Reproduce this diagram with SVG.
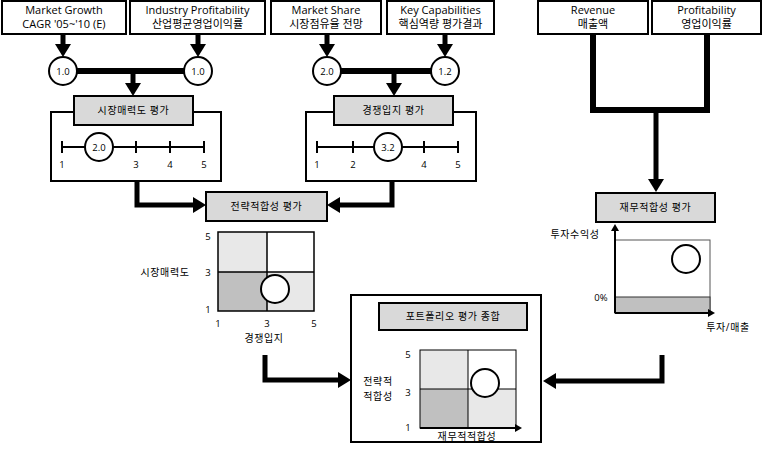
<svg xmlns="http://www.w3.org/2000/svg" width="763" height="453" viewBox="0 0 763 453">
<defs>
<style>
text{font-family:"Open Sans","Noto Sans CJK KR",sans-serif;fill:#000;text-anchor:middle}
.box{fill:#fff;stroke:#000;stroke-width:2}
.gbox{fill:#d9d9d9;stroke:#000;stroke-width:2}
.frame{fill:#fff;stroke:#000;stroke-width:2}
.t11{font-size:11px}
.t10{font-size:10px;letter-spacing:0.6px}
.t9{font-size:9.5px}
.conn{fill:none;stroke:#000;stroke-width:5;stroke-linejoin:miter}
.bar{fill:none;stroke:#000;stroke-width:6}
.circ{fill:#fff;stroke:#000;stroke-width:2}
.scale{stroke:#000;stroke-width:2;fill:none}
.q1{fill:#e8e8e8}
.q2{fill:#fff}
.q3{fill:#c0c0c0}
.grid{fill:none;stroke:#000;stroke-width:1.5}
.axis{stroke:#000;stroke-width:2;fill:none}
</style>
<marker id="ah" markerUnits="userSpaceOnUse" markerWidth="14" markerHeight="16" refX="5" refY="8" orient="auto">
<path d="M0,0 L13,8 L0,16 z" fill="#000"/>
</marker>
<marker id="sa" markerUnits="userSpaceOnUse" markerWidth="8" markerHeight="8" refX="2" refY="4" orient="auto">
<path d="M0,0 L7,4 L0,8 z" fill="#000"/>
</marker>
</defs>

<g id="connectors">
<line class="conn" x1="63" y1="34" x2="63" y2="49" marker-end="url(#ah)"/>
<line class="conn" x1="198" y1="34" x2="198" y2="49" marker-end="url(#ah)"/>
<line class="conn" x1="327" y1="34" x2="327" y2="49" marker-end="url(#ah)"/>
<line class="conn" x1="445" y1="34" x2="445" y2="49" marker-end="url(#ah)"/>
<line class="bar" x1="77" y1="71" x2="184" y2="71"/>
<line class="conn" x1="133" y1="71" x2="133" y2="88" marker-end="url(#ah)"/>
<line class="bar" x1="341" y1="71" x2="431" y2="71"/>
<line class="conn" x1="394" y1="71" x2="394" y2="88" marker-end="url(#ah)"/>
<path class="conn" d="M137,181 V205 H198" marker-end="url(#ah)"/>
<path class="conn" d="M392,181 V205 H335" marker-end="url(#ah)"/>
<path class="conn" d="M265,355 V380 H343" marker-end="url(#ah)"/>
<path class="conn" d="M662,355 V381 H551" marker-end="url(#ah)"/>
<path class="bar" d="M593,34 V110 H707 V34"/>
<line class="conn" x1="656" y1="110" x2="656" y2="184" marker-end="url(#ah)"/>
</g>

<g id="n-market-growth">
<rect class="box" x="2" y="1" width="124" height="33"/>
<text class="t11" x="64" y="14">Market Growth</text>
<text class="t11" x="64" y="28">CAGR '05~'10 (E)</text>
</g>
<g id="n-industry-profitability">
<rect class="box" x="130" y="1" width="135" height="33"/>
<text class="t11" x="197.5" y="14">Industry Profitability</text>
<text class="t11" x="197.5" y="28">산업평균영업이익률</text>
</g>
<g id="n-market-share">
<rect class="box" x="271" y="1" width="110" height="33"/>
<text class="t11" x="326" y="14">Market Share</text>
<text class="t11" x="326" y="28">시장점유율 전망</text>
</g>
<g id="n-key-capabilities">
<rect class="box" x="387" y="1" width="107" height="33"/>
<text class="t11" x="440.5" y="14">Key Capabilities</text>
<text class="t11" x="440.5" y="28">핵심역량 평가결과</text>
</g>
<g id="n-revenue">
<rect class="box" x="538" y="1" width="110" height="33"/>
<text class="t11" x="593" y="14">Revenue</text>
<text class="t11" x="593" y="28">매출액</text>
</g>
<g id="n-profitability">
<rect class="box" x="652" y="1" width="109" height="33"/>
<text class="t11" x="706.5" y="14">Profitability</text>
<text class="t11" x="706.5" y="28">영업이익률</text>
</g>

<g id="n-c1"><circle class="circ" cx="63" cy="71" r="14"/><text class="t9" x="63" y="74.5">1.0</text></g>
<g id="n-c2"><circle class="circ" cx="198" cy="71" r="14"/><text class="t9" x="198" y="74.5">1.0</text></g>
<g id="n-c3"><circle class="circ" cx="327" cy="71" r="14"/><text class="t9" x="327" y="74.5">2.0</text></g>
<g id="n-c4"><circle class="circ" cx="445" cy="71" r="14"/><text class="t9" x="445" y="74.5">1.2</text></g>

<g id="n-market-attractiveness">
<rect class="frame" x="51" y="112" width="170" height="69"/>
<rect class="gbox" x="74" y="96" width="119" height="29"/>
<text class="t10" x="133.5" y="114">시장매력도 평가</text>
<line class="scale" x1="62" y1="147" x2="204" y2="147"/>
<path class="scale" d="M62,141 V153 M136,141 V153 M170,141 V153 M204,141 V153"/>
<circle class="circ" cx="99" cy="147" r="14"/>
<text class="t9" x="99" y="150.5">2.0</text>
<text class="t9" x="62" y="168">1</text>
<text class="t9" x="136" y="168">3</text>
<text class="t9" x="170" y="168">4</text>
<text class="t9" x="204" y="168">5</text>
</g>

<g id="n-competitive-position">
<rect class="frame" x="306" y="112" width="170" height="69"/>
<rect class="gbox" x="334" y="96" width="119" height="29"/>
<text class="t10" x="393.5" y="114">경쟁입지 평가</text>
<line class="scale" x1="317" y1="147" x2="458" y2="147"/>
<path class="scale" d="M317,141 V153 M353,141 V153 M424,141 V153 M458,141 V153"/>
<circle class="circ" cx="388" cy="147" r="14"/>
<text class="t9" x="388" y="150.5">3.2</text>
<text class="t9" x="317" y="168">1</text>
<text class="t9" x="353" y="168">2</text>
<text class="t9" x="424" y="168">4</text>
<text class="t9" x="458" y="168">5</text>
</g>

<g id="n-strategic-fit">
<rect class="gbox" x="206" y="192" width="121" height="29"/>
<text class="t10" x="266.5" y="210">전략적합성 평가</text>
</g>

<g id="n-strategic-matrix">
<rect class="q1" x="218" y="232" width="49" height="40"/>
<rect class="q2" x="267" y="232" width="47" height="40"/>
<rect class="q3" x="218" y="272" width="49" height="39"/>
<rect class="q1" x="267" y="272" width="47" height="39"/>
<rect class="grid" x="218" y="232" width="96" height="79"/>
<path class="grid" d="M267,232 V311 M218,272 H314"/>
<circle class="circ" cx="275" cy="289" r="14"/>
<text class="t9" x="208" y="240">5</text>
<text class="t9" x="208" y="276">3</text>
<text class="t9" x="208" y="313">1</text>
<text class="t9" x="218" y="327">1</text>
<text class="t9" x="267" y="327">3</text>
<text class="t9" x="314" y="327">5</text>
<text class="t10" x="165" y="276">시장매력도</text>
<text class="t10" x="264" y="342">경쟁입지</text>
</g>

<g id="n-financial-fit">
<rect class="gbox" x="596" y="193" width="119" height="29"/>
<text class="t10" x="655.5" y="211">재무적합성 평가</text>
</g>

<g id="n-financial-chart">
<rect x="615" y="240" width="95" height="73" fill="#fff" stroke="#555" stroke-width="1"/>
<rect x="615" y="297" width="95" height="16" fill="#c0c0c0" stroke="#333" stroke-width="1"/>
<line class="axis" x1="615" y1="313" x2="615" y2="229" marker-end="url(#sa)"/>
<line class="axis" x1="615" y1="313" x2="710" y2="313" marker-end="url(#sa)"/>
<circle class="circ" cx="686" cy="259" r="14"/>
<text class="t10" x="575" y="238">투자수익성</text>
<text class="t9" x="601" y="301">0%</text>
<text class="t10" x="728" y="331">투자/매출</text>
</g>

<g id="n-portfolio">
<rect class="frame" x="351" y="295" width="190" height="147"/>
<rect class="gbox" x="379" y="303" width="148" height="27"/>
<text class="t10" x="453" y="320">포트폴리오 평가 종합</text>
<rect class="q1" x="420" y="350" width="48" height="39"/>
<rect class="q2" x="468" y="350" width="48" height="39"/>
<rect class="q3" x="420" y="389" width="48" height="39"/>
<rect class="q1" x="468" y="389" width="48" height="39"/>
<rect x="420" y="350" width="96" height="78" fill="none" stroke="#000" stroke-width="1"/>
<path d="M468,350 V428 M420,389 H516" fill="none" stroke="#000" stroke-width="1"/>
<line class="axis" x1="420" y1="428" x2="517" y2="428" marker-end="url(#sa)"/>
<circle class="circ" cx="485" cy="383" r="14"/>
<text class="t9" x="408" y="358">5</text>
<text class="t9" x="408" y="396">3</text>
<text class="t9" x="408" y="431">1</text>
<text class="t10" x="378" y="385">전략적</text>
<text class="t10" x="378" y="400">적합성</text>
<text class="t10" x="467" y="440">재무적적합성</text>
</g>
</svg>
